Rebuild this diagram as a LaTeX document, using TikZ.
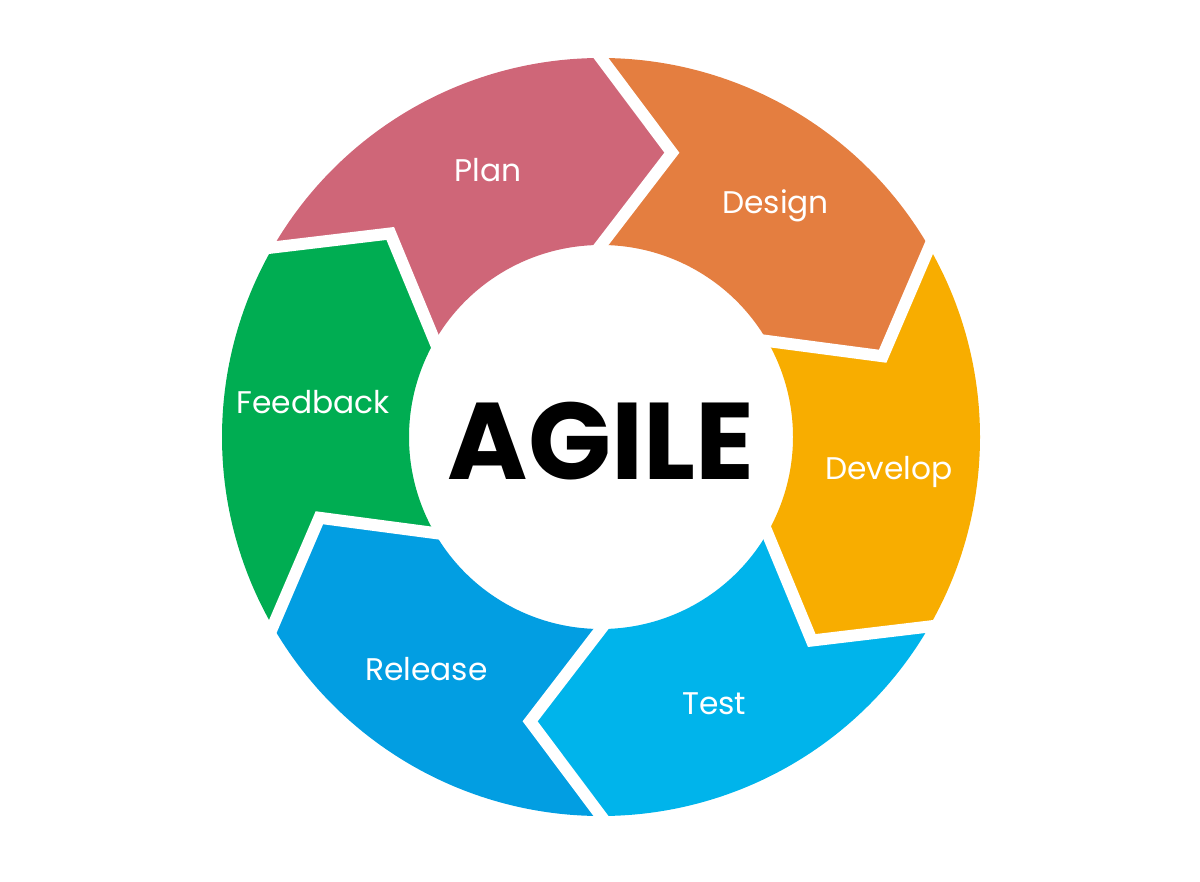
\documentclass[tikz,border=0pt]{standalone}
\usepackage{fontspec}
\setmainfont{Poppins}
\usepackage{xcolor}
\usetikzlibrary{positioning,calc}

\definecolor{planc}{RGB}{207,102,120}
\definecolor{designc}{RGB}{228,126,64}
\definecolor{developc}{RGB}{248,173,0}
\definecolor{testc}{RGB}{0,180,235}
\definecolor{releasec}{RGB}{2,158,226}
\definecolor{feedbackc}{RGB}{0,173,82}

\tikzset{
  phase label/.style={text=white, font=\fontsize{8.9}{10}\selectfont},
  gap line/.style={white, line width=3.4pt, line join=miter}
}

\begin{document}
\begin{tikzpicture}[x=0.01cm, y=0.01cm]
\useasboundingbox (0,0) rectangle (1200,881);
\coordinate (centre) at (601,444);

% ring pieces, each one an arrow pointing clockwise
\foreach \col/\lbl [count=\k from 0] in {planc/Plan, designc/Design, developc/Develop, testc/Test, releasec/Release, feedbackc/Feedback}
{
  \pgfmathsetmacro{\a}{150-60*\k}
  \pgfmathsetmacro{\b}{90-60*\k}
  \fill [\col] ($(centre)+(\a:379)$) arc [start angle=\a, end angle=\b, radius=379]
    -- ($(centre)+(\b-14:293)$) -- ($(centre)+(\b:192)$)
    arc [start angle=\b, end angle=\a, radius=192]
    -- ($(centre)+(\a-14:293)$) -- cycle;
  \node [phase label] (\lbl) at ($(centre)+(\a-37:290)$) {\lbl};
}

% white chevrons between the pieces
\foreach \g in {90,30,...,-210}
{
  \coordinate (tip) at ($(centre)+(\g-14:293)$);
  \draw [gap line] ($(tip)!1.15!($(centre)+(\g:379)$)$) -- (tip)
    -- ($(tip)!1.2!($(centre)+(\g:192)$)$);
}

\node [font=\bfseries\fontsize{31}{34}\selectfont] (agile) at ($(centre)+(0,-4)$) {AGILE};

\end{tikzpicture}
\end{document}
